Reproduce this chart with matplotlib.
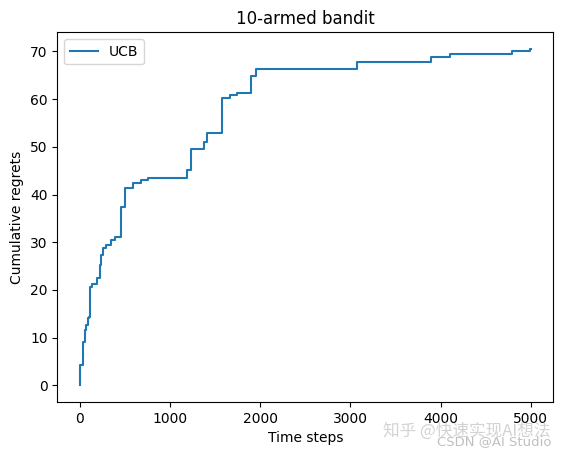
import matplotlib
matplotlib.use("Agg")
import matplotlib.pyplot as plt

# Step change points of the cumulative regret curve (time step, cumulative regret)
time_steps = [0, 5, 25, 30, 40, 55, 72, 85, 105, 112, 140, 195, 225, 232, 260, 290,
              350, 395, 452, 500, 585, 680, 760, 1185, 1235, 1372, 1405, 1575, 1670,
              1740, 1895, 1955, 3073, 3893, 4107, 4791, 4987, 5000]
cum_regret = [0, 4.2, 4.2, 6.6, 9.1, 11.5, 12.6, 14.0, 14.3, 20.6, 21.3, 22.4, 25.2,
              27.3, 28.8, 29.4, 30.4, 31.0, 37.4, 41.4, 42.4, 43.1, 43.5, 45.2, 49.6,
              51.0, 52.9, 60.2, 60.8, 61.2, 64.8, 66.4, 67.7, 68.8, 69.4, 70.1, 70.5, 70.5]
series_label = "UCB"
title = "10-armed bandit"

W, H = 566, 455
fig = plt.figure(figsize=(W / 100, H / 100), dpi=100)
left, right, top, bottom = 57.3, 553.3, 32.3, 402.0
ax = fig.add_axes([left / W, 1 - bottom / H, (right - left) / W, (bottom - top) / H])

ax.step(time_steps, cum_regret, where="post", label=series_label, color="#1f77b4", lw=1.5)
ax.set_xlabel("Time steps")
ax.set_ylabel("Cumulative regrets")
ax.set_title(title)
ax.legend(loc="upper left")

# watermark texts
fig.text(383 / W, 1 - 431 / H, "知乎 @快速实现AI想法", fontsize=12, color="#c8c8c8",
         family=["Noto Sans CJK SC", "DejaVu Sans"], va="center", ha="left", alpha=0.8)
fig.text(437 / W, 1 - 442 / H, "CSDN @AI Studio", fontsize=9.5, color="#b0b0b0",
         family=["DejaVu Sans"], va="center", ha="left", alpha=0.8)

fig.savefig("out.png", dpi=100)
